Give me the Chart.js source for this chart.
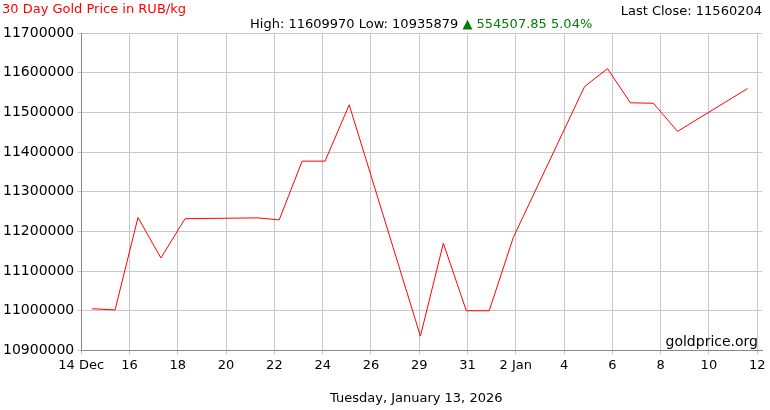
<!DOCTYPE html>
<html>
<head>
<meta charset="utf-8">
<script src="https://cdn.jsdelivr.net/npm/chart.js@4/dist/chart.umd.min.js"></script>
<style>
  body { margin: 0; background: #fff; font-family: "DejaVu Sans", Verdana, sans-serif; }
  #wrap { position: relative; width: 770px; height: 410px; }
  .t { position: absolute; font-size: 13px; white-space: nowrap; }
</style>
</head>
<body>
<div id="wrap">
  <canvas id="gold" width="770" height="410"></canvas>
  <div class="t" style="left:2px;top:1px;color:#ff0000">30 Day Gold Price in RUB/kg</div>
  <div class="t" style="right:8px;top:3px;color:#000">Last Close: 11560204</div>
  <div class="t" style="left:250px;top:16px;color:#000">High: 11609970 Low: 10935879 <span style="color:#008000">▲ 554507.85 5.04%</span></div>
  <div class="t" style="right:12px;top:333px;color:#000;font-size:14px">goldprice.org</div>
  <div class="t" style="left:330px;top:390px;color:#000">Tuesday, January 13, 2026</div>
</div>
<script>
// x position in trading-day units, label every 2 units
const tickLabels = ['14 Dec', '16', '18', '20', '22', '24', '26', '29', '31', '2 Jan', '4', '6', '8', '10', '12'];
const dayPos = [0.45, 1.4, 2.35, 3.3, 4.3, 7.3, 8.2, 9.15, 10.1, 11.1, 14.05, 15.0, 15.95, 16.9, 17.9, 20.85, 21.8, 22.75, 23.7, 24.7, 27.6];
const prices = [11005000, 11002000, 11235000, 11133000, 11232000, 11234000, 11229000, 11377000, 11377000, 11519000,
  10936000, 11170000, 11000000, 11000000, 11185000, 11565000, 11610000, 11524000, 11523000, 11452000, 11560000];

const chart = new Chart(document.getElementById('gold'), {
  type: 'line',
  data: {
    datasets: [{
      data: dayPos.map((x, i) => ({ x, y: prices[i] })),
      borderColor: '#ff0000',
      borderWidth: 1,
      pointRadius: 0,
      tension: 0,
    }],
  },
  options: {
    responsive: false,
    animation: false,
    layout: { padding: { top: 33, right: 8, bottom: 34, left: 0 } },
    plugins: { legend: { display: false }, tooltip: { enabled: false } },
    scales: {
      x: {
        type: 'linear',
        min: 0,
        max: 28.2,
        afterBuildTicks: (axis) => {
          axis.ticks = tickLabels.map((l, i) => ({ value: i * 2 }));
        },
        ticks: {
          autoSkip: false,
          color: '#000',
          font: { family: 'DejaVu Sans', size: 13 },
          maxRotation: 0,
          callback: (v) => tickLabels[Math.round(v / 2)] ?? '',
        },
        grid: { color: '#c8c8c8', tickLength: 4 },
        border: { color: '#888' },
      },
      y: {
        min: 10900000,
        max: 11700000,
        ticks: {
          stepSize: 100000,
          color: '#000',
          font: { family: 'DejaVu Sans', size: 14 },
          callback: (v) => String(v),
        },
        grid: { color: '#c8c8c8', tickLength: 4 },
        border: { color: '#888' },
      },
    },
  },
});
</script>
</body>
</html>
